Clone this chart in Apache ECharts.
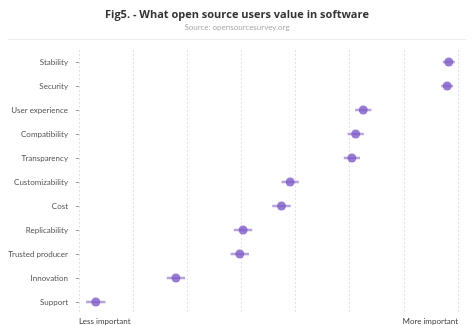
<!DOCTYPE html>
<html>
<head>
<meta charset="utf-8">
<script src="https://cdn.jsdelivr.net/npm/echarts@6/dist/echarts.min.js"></script>
<style>
html,body{margin:0;padding:0;background:#fff;}
#chart{width:474px;height:325px;}
</style>
</head>
<body>
<div id="chart"></div>
<script>
const categories = ['Stability','Security','User experience','Compatibility','Transparency','Customizability','Cost','Replicability','Trusted producer','Innovation','Support'];
const means = [6.83, 6.80, 5.25, 5.11, 5.04, 3.90, 3.74, 3.03, 2.97, 1.79, 0.31];
const lows  = [6.72, 6.69, 5.10, 4.96, 4.89, 3.74, 3.57, 2.86, 2.80, 1.62, 0.13];
const highs = [6.94, 6.91, 5.40, 5.26, 5.19, 4.06, 3.91, 3.20, 3.14, 1.96, 0.49];
const xTickLabels = ['Less important','More important'];

const chart = echarts.init(document.getElementById('chart'));
const pointData = means.map((v, i) => [v, i]);
const errData = lows.map((l, i) => [l, highs[i], i]);

chart.setOption({
  animation: false,
  backgroundColor: '#ffffff',
  title: {
    text: 'Fig5. - What open source users value in software',
    subtext: 'Source: opensourcesurvey.org',
    left: 'center',
    top: 4,
    itemGap: 3,
    textStyle: {fontFamily: 'Open Sans', fontSize: 11, fontWeight: 'bold', color: '#333'},
    subtextStyle: {fontFamily: 'Lato', fontSize: 8, color: '#aaa'}
  },
  graphic: [{
    type: 'line',
    shape: {x1: 8, y1: 39.5, x2: 466, y2: 39.5},
    style: {stroke: '#ececec', lineWidth: 1}
  }],
  grid: {left: 79, right: 16, top: 50, bottom: 11, containLabel: false},
  xAxis: {
    type: 'value',
    min: 0, max: 7, interval: 1,
    axisLine: {show: false},
    axisTick: {show: false},
    splitLine: {show: true, lineStyle: {color: '#e4e4e4', type: [2, 2], width: 1}},
    axisLabel: {
      show: true,
      margin: 3,
      fontFamily: 'Lato', fontSize: 8, color: '#444',
      alignMinLabel: 'left', alignMaxLabel: 'right',
      formatter: function (v) {
        if (v === 0) return xTickLabels[0];
        if (v === 7) return xTickLabels[1];
        return '';
      }
    }
  },
  yAxis: {
    type: 'category',
    data: categories,
    inverse: true,
    axisLine: {show: false},
    axisTick: {show: true, alignWithLabel: true, length: 3, inside: false, lineStyle: {color: '#999'}},
    splitLine: {show: false},
    axisLabel: {fontFamily: 'Lato', fontSize: 8, color: '#555', margin: 11}
  },
  series: [
    {
      type: 'custom',
      data: errData,
      encode: {x: [0, 1], y: 2},
      renderItem: function (params, api) {
        const p1 = api.coord([api.value(0), api.value(2)]);
        const p2 = api.coord([api.value(1), api.value(2)]);
        return {
          type: 'line',
          shape: {x1: p1[0], y1: p1[1], x2: p2[0], y2: p2[1]},
          style: {stroke: '#b7a2e0', lineWidth: 2.5}
        };
      },
      z: 2
    },
    {
      type: 'scatter',
      data: pointData,
      symbol: 'circle',
      symbolSize: 9,
      itemStyle: {color: '#7d5bc6'},
      z: 3
    }
  ]
});
</script>
</body>
</html>
